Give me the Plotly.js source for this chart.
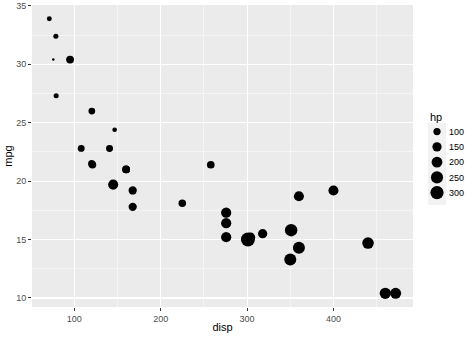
<!DOCTYPE html>
<html><head><meta charset="utf-8">
<script src="https://cdn.plot.ly/plotly-3.0.1.min.js"></script>
<style>html,body{margin:0;padding:0;background:#fff}#chart{width:474px;height:338px}</style>
</head><body><div id="chart"></div>
<script>
// mtcars: disp, mpg, hp
const disp = [160,160,108,258,360,225,360,146.7,140.8,167.6,167.6,275.8,275.8,275.8,472,460,440,78.7,75.7,71.1,120.1,318,304,350,400,79,120.3,95.1,351,145,301,121];
const mpg  = [21,21,22.8,21.4,18.7,18.1,14.3,24.4,22.8,19.2,17.8,16.4,17.3,15.2,10.4,10.4,14.7,32.4,30.4,33.9,21.5,15.5,15.2,13.3,19.2,27.3,26,30.4,15.8,19.7,15,21.4];
const hp   = [110,110,93,110,175,105,245,62,95,123,123,180,180,180,205,215,230,66,52,65,97,150,150,245,175,66,91,113,264,175,335,109];
const legendHp = [100,150,200,250,300];
const legendLabels = legendHp.map(String);

const hpMin = Math.min(...hp), hpMax = Math.max(...hp);
function sz(h){ return 2.5 + 11.5*Math.sqrt(Math.max(0,(h-hpMin))/(hpMax-hpMin)); }

const W=474, H=338, ML=32, MR=0, MT=5, MB=31;
const PW=W-ML-MR, PH=H-MT-MB;
const px = x => (x-ML)/PW;
const py = y => (H-MB-y)/PH;

const traces = [{
  type:'scatter', mode:'markers', x:disp, y:mpg, showlegend:false,
  marker:{color:'#000', size:hp.map(sz), opacity:1, line:{width:0}}, hoverinfo:'x+y'
},{
  type:'scatter', mode:'markers', x:legendLabels.map(()=> 'k'), y:legendLabels, xaxis:'x2', yaxis:'y2', showlegend:false,
  marker:{color:'#000', size:legendHp.map(sz), opacity:1, line:{width:0}}, hoverinfo:'skip'
}];

const layout = {
  width:W, height:H,
  margin:{l:ML, r:MR, t:MT, b:MB},
  paper_bgcolor:'#fff', plot_bgcolor:'#EBEBEB',
  font:{family:'Liberation Sans, Arial, sans-serif', color:'#4D4D4D', size:9},
  showlegend:false,
  xaxis:{domain:[0, px(413)], range:[51.05,492.05], tickvals:[100,200,300,400], ticks:'outside', ticklen:3, tickcolor:'#333', tickwidth:1,
    gridcolor:'#fff', gridwidth:1.1, zeroline:false, showline:false, automargin:false,
    minor:{tickvals:[50,150,250,350,450], showgrid:true, gridcolor:'#fff', gridwidth:0.5, ticks:''},
    tickfont:{size:9, color:'#4D4D4D'},
    title:{text:'disp', font:{size:11, color:'#000'}, standoff:0}},
  yaxis:{domain:[0,1], range:[9.225,35.075], tickvals:[10,15,20,25,30,35], ticks:'outside', ticklen:3, tickcolor:'#333', tickwidth:1,
    gridcolor:'#fff', gridwidth:1.1, zeroline:false, showline:false, automargin:false,
    minor:{tickvals:[12.5,17.5,22.5,27.5,32.5], showgrid:true, gridcolor:'#fff', gridwidth:0.5, ticks:''},
    tickfont:{size:9, color:'#4D4D4D'},
    title:{text:'mpg', font:{size:11, color:'#000'}, standoff:1}},
  xaxis2:{domain:[px(428), px(446)], anchor:'y2', type:'category', range:[-0.5,0.5], showgrid:false, showticklabels:false, ticks:'', zeroline:false, showline:false, automargin:false},
  yaxis2:{domain:[py(205), py(123)], anchor:'x2', type:'category', categoryorder:'array', categoryarray:legendLabels, autorange:'reversed',
    side:'right', showgrid:false, ticks:'', zeroline:false, showline:false, automargin:false, ticklabelstandoff:2,
    tickfont:{size:9, color:'#000'}},
  shapes:[{type:'rect', xref:'x2 domain', yref:'y2 domain', x0:0, x1:1, y0:0, y1:1, fillcolor:'#F2F2F2', line:{width:0}, layer:'below'}],
  annotations:[{text:'hp', xref:'paper', yref:'paper', x:px(428), y:py(117), xanchor:'left', yanchor:'middle', showarrow:false, font:{size:11, color:'#000'}}]
};
Plotly.newPlot('chart', traces, layout, {displayModeBar:false, staticPlot:true});
</script></body></html>
